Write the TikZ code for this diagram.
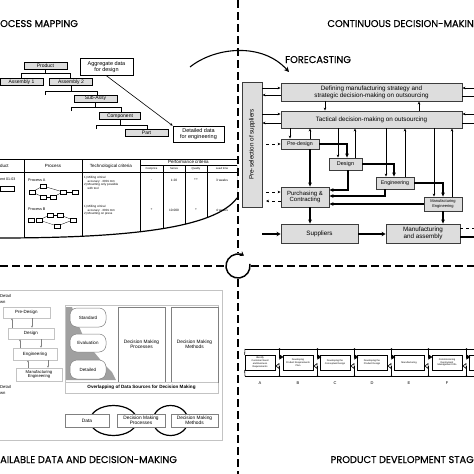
\documentclass[tikz,border=0pt]{standalone}
\usepackage{fontspec}
\setmainfont{Liberation Sans}
\newfontfamily\headfont[FakeBold=0.4]{Poppins}
\usetikzlibrary{positioning,calc,arrows.meta}

\definecolor{boxfill}{RGB}{221,221,221}
\definecolor{boxline}{RGB}{60,60,60}
\definecolor{framegray}{RGB}{195,195,195}
\definecolor{wedgegray}{RGB}{160,160,160}

\tikzset{
  heading/.style={font=\headfont\fontsize{9.8}{9.8}\selectfont, inner sep=0},
  treebox/.style={draw, line width=0.9pt, fill=boxfill, minimum width=43pt, minimum height=7pt, inner sep=0, font=\fontsize{5}{5}\selectfont},
  databox/.style={draw, line width=0.6pt, fill=white, inner sep=0, align=center, font=\fontsize{5.5}{5.8}\selectfont},
  flowbox/.style={draw=boxline, line width=0.9pt, fill=boxfill, inner sep=0, align=center, font=\fontsize{6.3}{7}\selectfont},
  thinarrow/.style={-{Stealth[length=3pt,width=2.6pt]}, line width=0.6pt},
  boldarrow/.style={-{Stealth[length=4pt,width=3.6pt]}, line width=1.1pt},
  fatarrow/.style={-{Stealth[length=4pt,width=4.5pt]}, line width=2pt},
  bracket/.style={line width=0.9pt},
  tabline/.style={line width=1pt},
  tabtext/.style={inner sep=0, font=\fontsize{4.5}{4.5}\selectfont},
  tinytext/.style={inner sep=0, align=left, font=\fontsize{3}{3.4}\selectfont},
  procbox/.style={draw, line width=0.4pt, fill=white, minimum width=6pt, minimum height=4pt, inner sep=0},
  levelbox/.style={draw=framegray, line width=0.6pt, fill=white, inner sep=0, align=center, font=\fontsize{4.5}{5}\selectfont},
  roundbox/.style={draw=gray, line width=0.5pt, fill=white, rounded corners=7pt, minimum width=36pt, inner sep=0, font=\fontsize{4.5}{5}\selectfont},
  dmbox/.style={draw=gray, line width=0.6pt, fill=white, inner sep=0, align=center, font=\fontsize{4.8}{5.5}\selectfont},
  stagebox/.style={draw, line width=0.8pt, fill=white, minimum width=30pt, minimum height=15pt, inner sep=0, align=center, font=\fontsize{2.4}{2.8}\selectfont},
  divider/.style={line width=1.4pt, dash pattern=on 8pt off 4pt},
}

\begin{document}
\begin{tikzpicture}[x=1pt, y=-1pt]
        \useasboundingbox (0,0) rectangle (474,474);
        \fill[white] (0,0) rectangle (474,474);

        % Headings
        \node (hmap) at (0,27) [heading, anchor=base west] {OCESS MAPPING};
        \node (hcont) at (474,27) [heading, anchor=base east] {CONTINUOUS DECISION-MAKIN};
        \node (hfore) at (285,63) [heading, anchor=base west] {FORECASTING};
        \node (hdata) at (0,463) [heading, anchor=base west] {AILABLE DATA AND DECISION-MAKING};
        \node (hstage) at (474,463) [heading, anchor=base east] {PRODUCT DEVELOPMENT STAG};

        % Quadrant dividers
        \node (cyc) at (238,266) [circle, minimum size=26pt, inner sep=0] {};
        \draw[divider] (238,0) -- (cyc.north);
        \draw[divider] (cyc.south) -- (238,474);
        \draw[divider] (0,266) -- (cyc.west);
        \draw[divider] (cyc.east) -- (474,266);
        \draw[line width=1.5pt, -{Stealth[length=4pt,width=5.5pt]}] ($(cyc)+(-10:12)$) arc[start angle=-10, end angle=300, radius=12];

        % Product tree
        \node (prod) at (45.5,66) [treebox] {Product};
        \node (asm1) at (21.5,82) [treebox] {Assembly 1};
        \node (asm2) at (71,82) [treebox] {Assembly 2};
        \node (subasy) at (95.5,98.5) [treebox] {Sub-Assy};
        \node (comp) at (120,116) [treebox, minimum width=41pt] {Component};
        \node (part) at (146.5,133) [treebox] {Part};
        \node (aggr) at (106.5,67) [databox, minimum width=53pt, minimum height=17pt] {Aggregate data\\for design};
        \node (detl) at (198.5,134) [databox, minimum width=51pt, minimum height=16pt] {Detailed data\\for engineering};

        \draw[bracket] (prod.south) -- (prod.south |- 0,73);
        \draw[bracket] (asm1.north -| 21,0) |- (70,73) -- (asm2.north -| 70,0);
        \draw[bracket] (asm2.south) -- (asm2.south |- 0,91);
        \draw[bracket] (45,95) |- (97,91) -- (subasy.north -| 97,0);
        \draw[bracket] (subasy.south) -- (subasy.south |- 0,107);
        \draw[bracket] (71,111) |- (121,107) -- (comp.north -| 121,0);
        \draw[bracket] (comp.south) -- (comp.south |- 0,125);
        \draw[bracket] (96,129) |- (147,125) -- (part.north -| 147,0);
        \draw[thinarrow] (aggr.south) -- (detl.north west);

        \coordinate (fcfrom) at (190,67);
        \coordinate (fcto) at (289,72);
        \draw[line width=1.1pt, -{Stealth[length=5pt,width=5pt]}] (fcfrom) .. controls (215,47) and (262,42) .. (fcto);

        % Table
        \begin{scope}
          \clip (-2,150) -- (237,150) -- (237,198) .. controls (215,228) and (130,238) .. (-2,238) -- cycle;
          \draw[tabline] (-2,159) -- (237,159);
          \draw[tabline] (-2,172) -- (237,172);
          \draw[line width=0.5pt] (140,165) -- (237,165);
          \foreach \x in {24,82,140} {
              \draw[tabline] (\x,159) -- (\x,240);
          }
          \foreach \x in {163,185,207,237} {
              \draw[line width=0.4pt] (\x,165) -- (\x,240);
          }
        \end{scope}
        \draw[line width=1.2pt] (-2,238) .. controls (130,238) and (215,228) .. (237,198);

        \node (thprod) at (0,166) [tabtext, anchor=west] {duct};
        \node (thproc) at (53,166) [tabtext] {Process};
        \node (thtech) at (111,166) [tabtext] {Technological criteria};
        \node (thperf) at (188.5,162) [tabtext] {Performance criteria};
        \node (thcost) at (151.5,168.7) [tabtext, font=\fontsize{2.8}{2.8}\selectfont] {Costprice};
        \node (thser) at (174,168.7) [tabtext, font=\fontsize{2.8}{2.8}\selectfont] {Series};
        \node (thqual) at (196,168.7) [tabtext, font=\fontsize{2.8}{2.8}\selectfont] {Quality};
        \node (thlead) at (222,168.7) [tabtext, font=\fontsize{2.8}{2.8}\selectfont] {Lead time};

        \node (prodid) at (0,179) [tabtext, anchor=west, font=\fontsize{3.6}{3.6}\selectfont] {ent 01-03};
        \node (prodbox) at (7,188.5) [procbox, minimum width=14pt, minimum height=5pt] {};

        \node (pA) at (28,180) [tabtext, anchor=west, font=\fontsize{3.8}{3.8}\selectfont] {Process A};
        \node (a1) at (32,192) [procbox] {};
        \node (a2) at (43,186) [procbox] {};
        \node (a3) at (43,197) [procbox] {};
        \node (a4) at (53,197) [procbox] {};
        \node (a5) at (63,192) [procbox] {};
        \node (a6) at (75,192) [procbox] {};
        \foreach \u/\v in {a1/a2, a1/a3, a2/a5, a3/a4, a4/a5, a5/a6} {
            \draw[line width=0.3pt] (\u) -- (\v);
        }
        \node (pB) at (28,209) [tabtext, anchor=west, font=\fontsize{3.8}{3.8}\selectfont] {Process B};
        \node (b1) at (31,220) [procbox] {};
        \node (b2) at (39,220) [procbox] {};
        \node (b3) at (50,215) [procbox] {};
        \node (b4) at (60,215) [procbox] {};
        \node (b5) at (57,226) [procbox] {};
        \node (b6) at (73,220) [procbox] {};
        \foreach \u/\v in {b2/b3, b3/b4, b2/b5, b4/b6, b5/b6} {
            \draw[line width=0.3pt] (\u) -- (\v);
        }

        \node (techA) at (84,176.5) [tinytext, anchor=north west] {1) Milling critical\\\phantom{1) }accuracy: .3001 mm\\2) Mounting only possible\\\phantom{2) }with tool};
        \node (techB) at (84,205.5) [tinytext, anchor=north west] {1) Milling critical\\\phantom{1) }accuracy: .3001 mm\\2) Mounting on press};

        \foreach \x/\r/\s in {151.5/-/+, 174/1:20/10.000, 196/++/+, 222/3 weeks/4 weeks} {
            \node at (\x,180) [tabtext, font=\fontsize{3.2}{3.2}\selectfont] {\r};
            \node at (\x,210) [tabtext, font=\fontsize{3.2}{3.2}\selectfont] {\s};
        }

        % Decision-making flow
        \node (presel) at (252,144.5) [flowbox, rotate=90, minimum width=125pt, minimum height=20pt] {Pre-selection of suppliers};
        \node (strat) at (371.5,92) [flowbox, minimum width=181pt, minimum height=18pt] {Defining manufacturing strategy and\\strategic decision-making on outsourcing};
        \node (tact) at (371.5,119.5) [flowbox, minimum width=181pt, minimum height=17pt] {Tactical decision-making on outsourcing};
        \node (predes) at (300,144) [flowbox, minimum width=38pt, minimum height=10pt, font=\fontsize{5.3}{6}\selectfont] {Pre-design};
        \node (design) at (345.5,164) [flowbox, minimum width=33pt, minimum height=12pt, font=\fontsize{5.5}{6}\selectfont] {Design};
        \node (engin) at (395,183) [flowbox, minimum width=38pt, minimum height=12pt, font=\fontsize{5.3}{6}\selectfont] {Engineering};
        \node (meng) at (443,204) [flowbox, minimum width=38pt, minimum height=14pt, font=\fontsize{4}{4.5}\selectfont] {Manufacturing\\Engineering};
        \node (purch) at (305,197) [flowbox, minimum width=48pt, minimum height=20pt, font=\fontsize{6}{6.6}\selectfont] {Purchasing \&\\Contracting};
        \node (suppl) at (319.5,233.5) [flowbox, minimum width=77pt, minimum height=19pt] {Suppliers};
        \node (manuf) at (423,233.5) [flowbox, minimum width=74pt, minimum height=19pt] {Manufacturing\\and assembly};

        \draw[thinarrow] (presel.south |- 0,88) -- (strat.west |- 0,88);
        \draw[thinarrow] (strat.west |- 0,95) -- (presel.south |- 0,95);
        \draw[thinarrow] (presel.south |- 0,114) -- (tact.west |- 0,114);
        \draw[thinarrow] (tact.west |- 0,123) -- (presel.south |- 0,123);
        \coordinate (rin1) at (474,88);
        \coordinate (rout1) at (474,96);
        \coordinate (rin2) at (474,114);
        \coordinate (rout2) at (474,123);
        \draw[thinarrow] (rin1) -- (strat.east |- rin1);
        \draw[line width=0.6pt] (strat.east |- rout1) -- (rout1);
        \draw[thinarrow] (rin2) -- (tact.east |- rin2);
        \draw[line width=0.6pt] (tact.east |- rout2) -- (rout2);
        \draw[thinarrow] (325,0 |- strat.south) -- (325,0 |- tact.north);
        \draw[thinarrow] (419,0 |- tact.north) -- (419,0 |- strat.south);
        \foreach \a/\b/\n in {290/310/predes, 338/355/design, 386/405/engin, 434/452/meng} {
            \draw[thinarrow] (\a,0 |- tact.south) -- (\a,0 |- \n.north);
            \draw[thinarrow] (\b,0 |- \n.north) -- (\b,0 |- tact.south);
        }
        \draw[boldarrow] (predes.east) -| (347,0 |- design.north);
        \draw[boldarrow] (design.east) -| (394,0 |- engin.north);
        \draw[boldarrow] (engin.east) -| (443,0 |- meng.north);
        \draw[boldarrow] (310,0 |- predes.south) -- (310,0 |- purch.north);
        \draw[boldarrow] (348,0 |- design.south) |- (purch.east |- 0,190);
        \draw[boldarrow] (385,0 |- engin.south) |- (purch.east |- 0,196);
        \draw[boldarrow] (meng.west |- 0,204) -- (purch.east |- 0,204);
        \coordinate (lin0) at (266,144);
        \coordinate (lin1) at (266,192);
        \coordinate (lout1) at (266,201);
        \draw[thinarrow, dashed] (lin0) -- (predes.west);
        \draw[thinarrow, dashed] (lin1) -- (purch.west |- lin1);
        \draw[thinarrow, dashed] (purch.west |- lout1) -- (lout1);
        \draw[boldarrow] (310,0 |- purch.south) -- (310,0 |- suppl.north);
        \draw[boldarrow] (443,0 |- meng.south) -- (443,0 |- manuf.north);
        \coordinate (supin) at (262,234);
        \coordinate (mout) at (474,237);
        \coordinate (mdash) at (474,228);
        \draw[fatarrow] (supin) -- (suppl.west |- supin);
        \draw[fatarrow] (suppl.east |- supin) -- (manuf.west |- supin);
        \draw[line width=2pt] (manuf.east |- mout) -- (mout);
        \draw[line width=0.8pt, dashed] (manuf.east |- mdash) -- (mdash);

        % Available data
        \draw[framegray, line width=0.6pt] (-2,290) rectangle (222,440);
        \node (dettop) at (0,294) [tabtext, anchor=north west, align=left, font=\fontsize{4.2}{6}\selectfont] {Detail\\wn};
        \node (detbot) at (0,385) [tabtext, anchor=north west, align=left, font=\fontsize{4.2}{6}\selectfont] {Detail\\wn};
        \node (lvpre) at (26.5,312.5) [levelbox, minimum width=47pt, minimum height=11pt] {Pre-Design};
        \node (lvdes) at (31,333.5) [levelbox, minimum width=46pt, minimum height=11pt] {Design};
        \node (lveng) at (35,354) [levelbox, minimum width=44pt, minimum height=12pt] {Engineering};
        \node (lvmfg) at (39,374.5) [levelbox, minimum width=46pt, minimum height=13pt, font=\fontsize{4.2}{4.6}\selectfont] {Manufacturing\\Engineering};
        \foreach \u/\d/\hi/\lo in {12/32/lvpre/lvdes, 20/41/lvdes/lveng, 28/48/lveng/lvmfg} {
            \draw[gray, -{Stealth[length=2pt,width=2pt]}, line width=0.4pt] (\u,0 |- \lo.north) -- (\u,0 |- \hi.south);
            \draw[gray, -{Stealth[length=2pt,width=2pt]}, line width=0.4pt] (\d,0 |- \hi.south) -- (\d,0 |- \lo.north);
        }

        \draw[framegray, line width=0.6pt] (65,305) rectangle (218,393);
        \fill[wedgegray] (66,307) -- (72,307) -- (78,324) -- (84,338) -- (94,352) -- (104,364) -- (112,372) -- (116,380) -- (66,380) -- cycle;
        \node (std) at (88,317.5) [roundbox, minimum height=19pt] {Standard};
        \node (evl) at (88,343) [roundbox, minimum height=18pt] {Evaluation};
        \node (dtl) at (88,369.5) [roundbox, minimum height=19pt] {Detailed};
        \node (dmproc) at (141.5,344.5) [dmbox, minimum width=47pt, minimum height=75pt] {Decision Making\\Processes};
        \node (dmmeth) at (194.5,344.5) [dmbox, minimum width=47pt, minimum height=75pt] {Decision Making\\Methods};
        \draw[framegray, line width=0.6pt] (65,382) -- (218,382);
        \node (ovl) at (141.5,387.5) [tabtext, font=\bfseries\fontsize{4.6}{4.6}\selectfont] {Overlapping of Data Sources for Decision Making};

        \coordinate (loopA) at (113.5,420.5);
        \coordinate (loopB) at (170.5,420.5);
        \draw[line width=1.2pt] (loopA) ellipse [x radius=23.5, y radius=15];
        \draw[line width=1.2pt] (loopB) ellipse [x radius=17.5, y radius=15];
        \node (data) at (87,420.5) [dmbox, minimum width=44pt, minimum height=13pt] {Data};
        \node (dmproc2) at (141,420.5) [dmbox, minimum width=48pt, minimum height=13pt] {Decision Making\\Processes};
        \node (dmmeth2) at (194.5,420.5) [dmbox, minimum width=47pt, minimum height=13pt] {Decision Making\\Methods};

        % Development stages
        \draw[line width=0.6pt] (245,349) -- (474,349);
        \draw[line width=0.6pt] (245,376) -- (474,376);
        \foreach \n/\cx/\t in {A/260/{Identify\\Customer Need\\and Business\\Requirements}, B/298/{Developing\\Product Requirements\\Plan}, C/335/{Developing the\\Conceptual Design}, D/372/{Developing the\\Product Design}, E/409/{Manufacturing}, F/447/{Commissioning\\Deployment\\Management Info}} {
            \node (st\n) at (\cx,362.5) [stagebox] {\t};
            \node (lb\n) at (\cx,383.5) [tabtext, font=\fontsize{4}{4}\selectfont] {\n};
        }
        \draw[line width=0.8pt] (475,355) -| (469,370) -- (475,370);
        \draw[line width=0.6pt] (245,349) -- (stA.west |- 0,355);
        \draw[line width=0.6pt] (245,376) -- (stA.west |- 0,370);
        \foreach \a in {A,B,C,D,E,F} {
            \coordinate (top\a) at ($(st\a.east |- 0,349)+(4,0)$);
            \coordinate (bot\a) at ($(st\a.east |- 0,376)+(4,0)$);
            \fill (top\a) circle (0.9pt);
            \fill (bot\a) circle (0.9pt);
            \draw[line width=0.6pt, -{Triangle[length=4pt,width=5pt]}] (top\a) -- ($(top\a)+(0,8)$) -- ++(4,0);
            \draw[line width=0.6pt, -{Triangle[open,length=4pt,width=6pt]}] (bot\a) -- ($(bot\a)+(0,-10)$) -- (st\a.east |- 0,366);
        }
\end{tikzpicture}
\end{document}
